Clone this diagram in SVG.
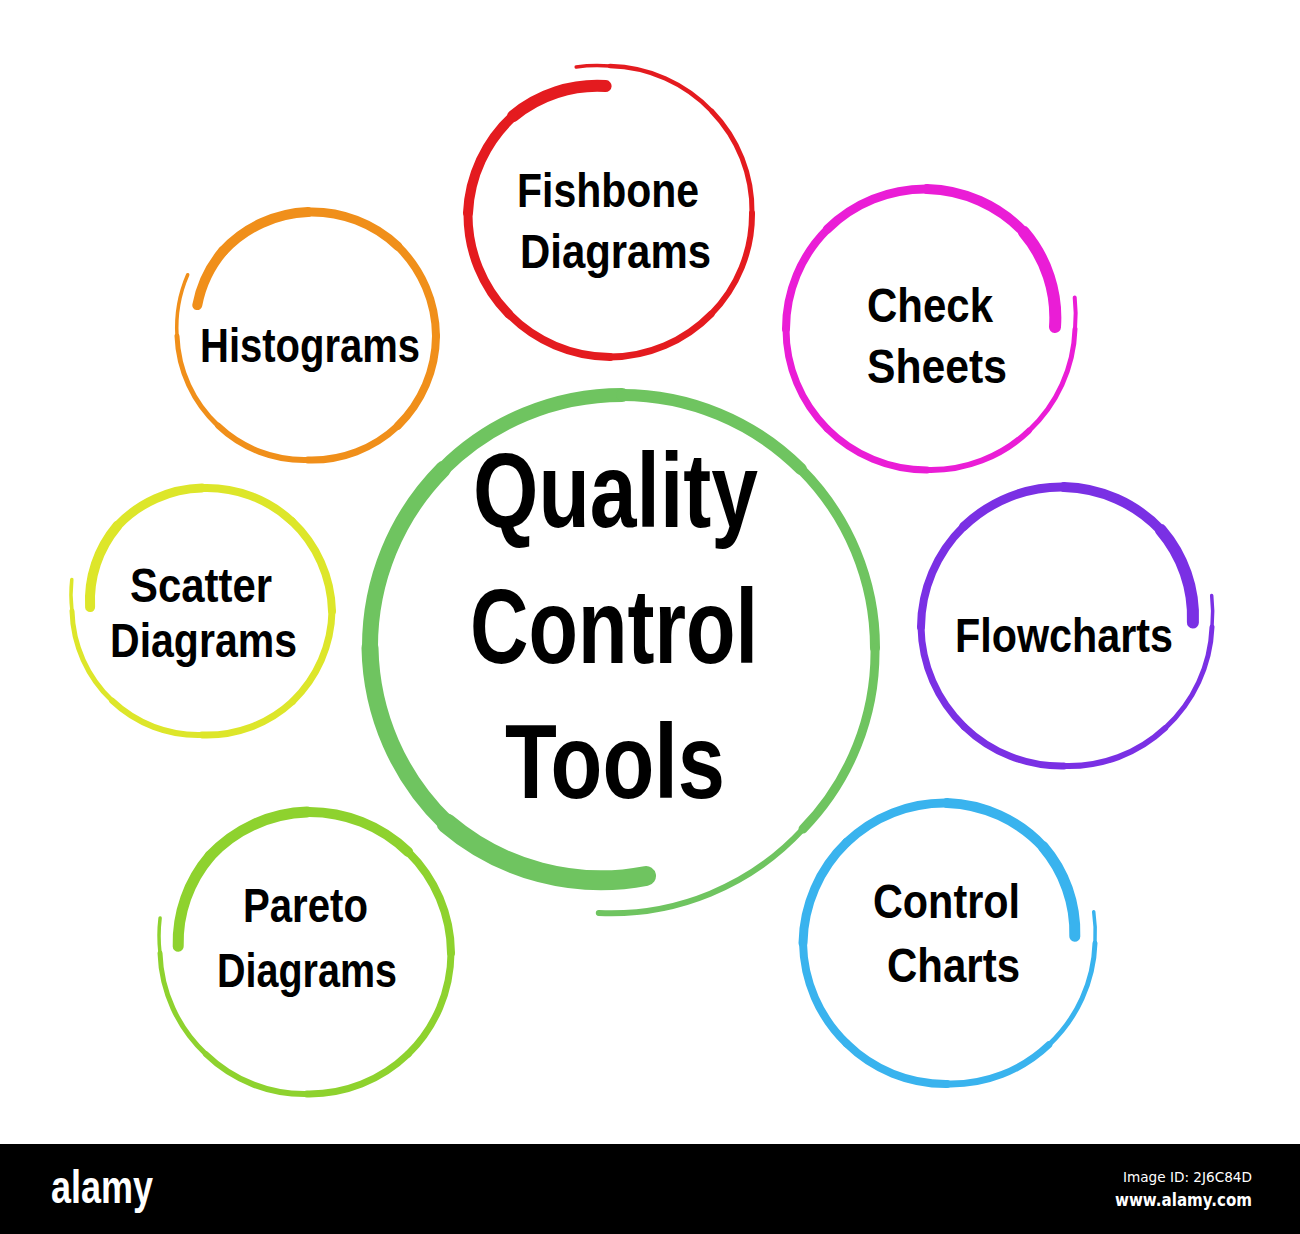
<svg xmlns="http://www.w3.org/2000/svg" width="1300" height="1234" viewBox="0 0 1300 1234">
<style>
.b{fill:none;stroke-linecap:round;stroke-linejoin:round}
.lbl{font-family:"Liberation Sans",Arial,sans-serif;font-weight:bold;font-size:49px;fill:#000}
.big{font-family:"Liberation Sans",Arial,sans-serif;font-weight:bold;font-size:105px;fill:#000}
.g{stroke:#6fc460}.r{stroke:#e41b1f}.m{stroke:#ea1dd6}.o{stroke:#f08f1a}.y{stroke:#dde62a}.p{stroke:#7a30e4}.l{stroke:#8ed22e}.c{stroke:#39b3ee}
</style>
<rect x="0" y="0" width="1300" height="1234" fill="#ffffff"/>
<g id="connectors"/>
<g id="center">
<path class="b g" stroke-width="20" d="M646,876 A238,238 0 0,1 446.6,823.4"/>
<path class="b g" stroke-width="17" d="M446.6,823.4 A250,250 0 0,1 370,648"/>
<path class="b g" stroke-width="16" d="M370,648 A252,252 0 0,1 443.1,469.1"/>
<path class="b g" stroke-width="14" d="M443.1,469.1 A253,253 0 0,1 622,395"/>
<path class="b g" stroke-width="12" d="M622,395 A253,253 0 0,1 800.9,469.1"/>
<path class="b g" stroke-width="10" d="M800.9,469.1 A253,253 0 0,1 875,648"/>
<path class="b g" stroke-width="9" d="M875,648 A254,254 0 0,1 803,829"/>
<path class="b g" stroke-width="6" d="M803,829 A261,261 0 0,1 598.8,913"/>
<text class="big" x="473" y="527" textLength="285" lengthAdjust="spacingAndGlyphs">Quality</text>
<text class="big" x="470" y="663" textLength="288" lengthAdjust="spacingAndGlyphs">Control</text>
<text class="big" x="505" y="798" textLength="220" lengthAdjust="spacingAndGlyphs">Tools</text>
</g>
<g id="node-fishbone">
<path class="b r" stroke-width="12" d="M605.6,86.1 A132,132 0 0,0 513.1,116.1"/>
<path class="b r" stroke-width="10" d="M513.1,116.1 A140,140 0 0,0 468,213"/>
<path class="b r" stroke-width="9" d="M468,213 A142,142 0 0,0 508.9,314.1"/>
<path class="b r" stroke-width="8" d="M508.9,314.1 A143,143 0 0,0 610,357"/>
<path class="b r" stroke-width="7" d="M610,357 A143,143 0 0,0 711.1,314.1"/>
<path class="b r" stroke-width="6" d="M711.1,314.1 A142,142 0 0,0 752,213"/>
<path class="b r" stroke-width="5" d="M752,213 A143,143 0 0,0 711.8,111.2"/>
<path class="b r" stroke-width="4.5" d="M711.8,111.2 A145,145 0 0,0 610,66"/>
<path class="b r" stroke-width="3.5" d="M610,66 A150,150 0 0,0 576.2,66.9"/>
<text class="lbl" font-size="47" x="517" y="207" textLength="182" lengthAdjust="spacingAndGlyphs">Fishbone</text>
<text class="lbl" font-size="47" x="520" y="268" textLength="191" lengthAdjust="spacingAndGlyphs">Diagrams</text>
</g>
<g id="node-check-sheets">
<path class="b m" stroke-width="12" d="M1055,327 A132,132 0 0,0 1023.9,232.1"/>
<path class="b m" stroke-width="10" d="M1023.9,232.1 A138,138 0 0,0 927,189"/>
<path class="b m" stroke-width="9" d="M927,189 A140,140 0 0,0 827.3,229.3"/>
<path class="b m" stroke-width="8" d="M827.3,229.3 A141,141 0 0,0 786,329"/>
<path class="b m" stroke-width="7" d="M786,329 A141,141 0 0,0 827.3,428.7"/>
<path class="b m" stroke-width="7" d="M827.3,428.7 A141,141 0 0,0 927,470"/>
<path class="b m" stroke-width="6" d="M927,470 A142,142 0 0,0 1028.8,430.8"/>
<path class="b m" stroke-width="5" d="M1028.8,430.8 A146,146 0 0,0 1075,329"/>
<path class="b m" stroke-width="4" d="M1075,329 A150,150 0 0,0 1074.7,297.6"/>
<text class="lbl" x="867" y="322" textLength="126" lengthAdjust="spacingAndGlyphs">Check</text>
<text class="lbl" x="867" y="383" textLength="140" lengthAdjust="spacingAndGlyphs">Sheets</text>
</g>
<g id="node-histograms">
<path class="b o" stroke-width="10" d="M197.3,305.1 A118,118 0 0,1 223.1,251.1"/>
<path class="b o" stroke-width="10" d="M223.1,251.1 A122,122 0 0,1 308,212"/>
<path class="b o" stroke-width="9" d="M308,212 A125,125 0 0,1 397.8,246.2"/>
<path class="b o" stroke-width="8" d="M397.8,246.2 A127,127 0 0,1 436,336"/>
<path class="b o" stroke-width="8" d="M436,336 A127,127 0 0,1 397.8,425.8"/>
<path class="b o" stroke-width="7" d="M397.8,425.8 A125,125 0 0,1 308,460"/>
<path class="b o" stroke-width="6" d="M308,460 A125,125 0 0,1 218.2,425.8"/>
<path class="b o" stroke-width="5" d="M218.2,425.8 A129,129 0 0,1 177,336"/>
<path class="b o" stroke-width="3.5" d="M177,336 A133,133 0 0,1 187.7,274.7"/>
<text class="lbl" font-size="50" x="200" y="362" textLength="220" lengthAdjust="spacingAndGlyphs">Histograms</text>
</g>
<g id="node-scatter">
<path class="b y" stroke-width="10" d="M90.1,607.1 A116,116 0 0,1 117.1,526.1"/>
<path class="b y" stroke-width="9" d="M117.1,526.1 A121,121 0 0,1 202,488"/>
<path class="b y" stroke-width="8" d="M202,488 A125,125 0 0,1 291.8,521.2"/>
<path class="b y" stroke-width="8" d="M291.8,521.2 A128,128 0 0,1 332,611"/>
<path class="b y" stroke-width="7" d="M332,611 A129,129 0 0,1 292.5,701.5"/>
<path class="b y" stroke-width="7" d="M292.5,701.5 A126,126 0 0,1 202,735"/>
<path class="b y" stroke-width="6" d="M202,735 A125,125 0 0,1 112.2,700.8"/>
<path class="b y" stroke-width="5" d="M112.2,700.8 A128,128 0 0,1 72,611"/>
<path class="b y" stroke-width="3.5" d="M72,611 A132,132 0 0,1 71.8,579.5"/>
<text class="lbl" x="130" y="602" textLength="142" lengthAdjust="spacingAndGlyphs">Scatter</text>
<text class="lbl" x="110" y="657" textLength="187" lengthAdjust="spacingAndGlyphs">Diagrams</text>
</g>
<g id="node-flowcharts">
<path class="b p" stroke-width="12" d="M1192.9,622.5 A133,133 0 0,0 1160.9,530.1"/>
<path class="b p" stroke-width="10" d="M1160.9,530.1 A138,138 0 0,0 1064,487"/>
<path class="b p" stroke-width="9" d="M1064,487 A141,141 0 0,0 963.6,526.6"/>
<path class="b p" stroke-width="8" d="M963.6,526.6 A142,142 0 0,0 921,627"/>
<path class="b p" stroke-width="7" d="M921,627 A142,142 0 0,0 964.3,726.7"/>
<path class="b p" stroke-width="7" d="M964.3,726.7 A140,140 0 0,0 1064,766"/>
<path class="b p" stroke-width="6" d="M1064,766 A141,141 0 0,0 1165.1,728.1"/>
<path class="b p" stroke-width="5" d="M1165.1,728.1 A145,145 0 0,0 1212,627"/>
<path class="b p" stroke-width="3.5" d="M1212,627 A150,150 0 0,0 1211.7,595.6"/>
<text class="lbl" font-size="50" x="955" y="652" textLength="218" lengthAdjust="spacingAndGlyphs">Flowcharts</text>
</g>
<g id="node-pareto">
<path class="b l" stroke-width="11" d="M178.2,946.3 A133,133 0 0,1 210.1,856.1"/>
<path class="b l" stroke-width="11" d="M210.1,856.1 A139,139 0 0,1 307,812"/>
<path class="b l" stroke-width="10" d="M307,812 A142,142 0 0,1 408.1,851.9"/>
<path class="b l" stroke-width="8" d="M408.1,851.9 A143,143 0 0,1 451,953"/>
<path class="b l" stroke-width="7" d="M451,953 A143,143 0 0,1 408.1,1054.1"/>
<path class="b l" stroke-width="7" d="M408.1,1054.1 A142,142 0 0,1 307,1094"/>
<path class="b l" stroke-width="6" d="M307,1094 A142,142 0 0,1 205.9,1054.1"/>
<path class="b l" stroke-width="5" d="M205.9,1054.1 A145,145 0 0,1 160,953"/>
<path class="b l" stroke-width="3.5" d="M160,953 A149,149 0 0,1 160.1,918"/>
<text class="lbl" font-size="50" x="243" y="922" textLength="125" lengthAdjust="spacingAndGlyphs">Pareto</text>
<text class="lbl" x="217" y="987" textLength="180" lengthAdjust="spacingAndGlyphs">Diagrams</text>
</g>
<g id="node-control-charts">
<path class="b c" stroke-width="11" d="M1074.8,936.3 A132,132 0 0,0 1043.2,846.8"/>
<path class="b c" stroke-width="10" d="M1043.2,846.8 A138,138 0 0,0 947,803"/>
<path class="b c" stroke-width="9" d="M947,803 A141,141 0 0,0 846.6,842.6"/>
<path class="b c" stroke-width="9" d="M846.6,842.6 A143,143 0 0,0 803,943"/>
<path class="b c" stroke-width="8" d="M803,943 A143,143 0 0,0 846.6,1043.4"/>
<path class="b c" stroke-width="8" d="M846.6,1043.4 A141,141 0 0,0 947,1084"/>
<path class="b c" stroke-width="7" d="M947,1084 A142,142 0 0,0 1048.8,1044.8"/>
<path class="b c" stroke-width="5" d="M1048.8,1044.8 A146,146 0 0,0 1095,943"/>
<path class="b c" stroke-width="3.5" d="M1095,943 A149,149 0 0,0 1093.7,911.8"/>
<text class="lbl" font-size="51" x="873" y="918" textLength="147" lengthAdjust="spacingAndGlyphs">Control</text>
<text class="lbl" font-size="51" x="887" y="982" textLength="133" lengthAdjust="spacingAndGlyphs">Charts</text>
</g>
<g id="footer">
<rect x="0" y="1144" width="1300" height="90" fill="#000000"/>
<text x="51" y="1203" font-family="Liberation Sans,Arial,sans-serif" font-weight="bold" font-size="47" fill="#ffffff" textLength="102" lengthAdjust="spacingAndGlyphs">alamy</text>
<text x="1123" y="1182" font-family="DejaVu Sans,sans-serif" font-size="14" fill="#ffffff" textLength="129" lengthAdjust="spacingAndGlyphs">Image ID: 2J6C84D</text>
<text x="1115" y="1206" font-family="DejaVu Sans,sans-serif" font-weight="bold" font-size="18" fill="#ffffff" textLength="137" lengthAdjust="spacingAndGlyphs">www.alamy.com</text>
</g>
</svg>
